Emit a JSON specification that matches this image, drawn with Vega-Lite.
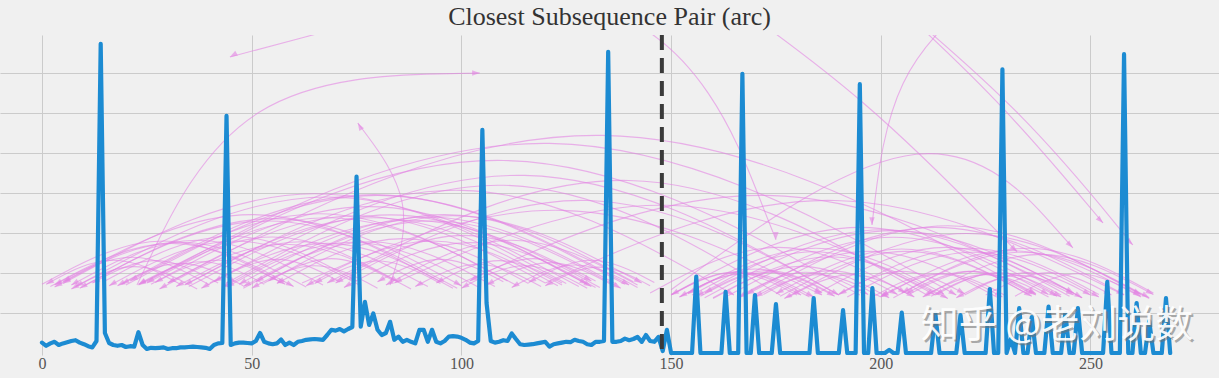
{
"$schema": "https://vega.github.io/schema/vega-lite/v6.json",
"width": 1219, "height": 320,
"autosize": {"type": "none"},
"padding": {"left": 0, "top": 35, "right": 0, "bottom": 23},
"background": "#f0f0f0",
"config": {"view": {"stroke": null}},
"title": {"text": "Closest Subsequence Pair (arc)", "font": "Liberation Serif", "fontSize": 26, "fontWeight": "normal", "color": "#333333", "anchor": "middle", "offset": 3},
"datasets": {
"series": [
{"x":0,"y":0.26},{"x":1,"y":0.18},{"x":2,"y":0.24},{"x":3,"y":0.28},{"x":4,"y":0.2},{"x":5,"y":0.24},{"x":6,"y":0.27},{"x":7,"y":0.3},{"x":8,"y":0.32},{"x":9,"y":0.26},
{"x":10,"y":0.22},{"x":11,"y":0.17},{"x":12,"y":0.14},{"x":13,"y":0.3},{"x":14,"y":7.73},{"x":15,"y":0.5},{"x":16,"y":0.25},{"x":17,"y":0.2},{"x":18,"y":0.18},{"x":19,"y":0.2},
{"x":20,"y":0.15},{"x":21,"y":0.17},{"x":22,"y":0.16},{"x":23,"y":0.52},{"x":24,"y":0.2},{"x":25,"y":0.1},{"x":26,"y":0.13},{"x":27,"y":0.12},{"x":28,"y":0.13},{"x":29,"y":0.14},
{"x":30,"y":0.1},{"x":31,"y":0.12},{"x":32,"y":0.12},{"x":33,"y":0.14},{"x":34,"y":0.14},{"x":35,"y":0.15},{"x":36,"y":0.16},{"x":37,"y":0.15},{"x":38,"y":0.14},{"x":39,"y":0.13},
{"x":40,"y":0.1},{"x":41,"y":0.2},{"x":42,"y":0.24},{"x":43,"y":0.25},{"x":44,"y":5.93},{"x":45,"y":0.2},{"x":46,"y":0.24},{"x":47,"y":0.26},{"x":48,"y":0.26},{"x":49,"y":0.25},
{"x":50,"y":0.24},{"x":51,"y":0.3},{"x":52,"y":0.5},{"x":53,"y":0.28},{"x":54,"y":0.24},{"x":55,"y":0.22},{"x":56,"y":0.24},{"x":57,"y":0.34},{"x":58,"y":0.2},{"x":59,"y":0.26},
{"x":60,"y":0.2},{"x":61,"y":0.28},{"x":62,"y":0.3},{"x":63,"y":0.33},{"x":64,"y":0.34},{"x":65,"y":0.35},{"x":66,"y":0.34},{"x":67,"y":0.33},{"x":68,"y":0.45},{"x":69,"y":0.58},
{"x":70,"y":0.56},{"x":71,"y":0.6},{"x":72,"y":0.54},{"x":73,"y":0.6},{"x":74,"y":0.65},{"x":75,"y":4.41},{"x":76,"y":0.66},{"x":77,"y":1.28},{"x":78,"y":0.7},{"x":79,"y":0.99},
{"x":80,"y":0.58},{"x":81,"y":0.45},{"x":82,"y":0.5},{"x":83,"y":0.78},{"x":84,"y":0.33},{"x":85,"y":0.41},{"x":86,"y":0.28},{"x":87,"y":0.33},{"x":88,"y":0.28},{"x":89,"y":0.24},
{"x":90,"y":0.58},{"x":91,"y":0.58},{"x":92,"y":0.28},{"x":93,"y":0.58},{"x":94,"y":0.28},{"x":95,"y":0.24},{"x":96,"y":0.3},{"x":97,"y":0.41},{"x":98,"y":0.42},{"x":99,"y":0.41},
{"x":100,"y":0.38},{"x":101,"y":0.33},{"x":102,"y":0.26},{"x":103,"y":0.24},{"x":104,"y":0.3},{"x":105,"y":5.58},{"x":106,"y":1.25},{"x":107,"y":0.3},{"x":108,"y":0.26},{"x":109,"y":0.28},
{"x":110,"y":0.32},{"x":111,"y":0.3},{"x":112,"y":0.49},{"x":113,"y":0.35},{"x":114,"y":0.22},{"x":115,"y":0.2},{"x":116,"y":0.21},{"x":117,"y":0.22},{"x":118,"y":0.24},{"x":119,"y":0.26},
{"x":120,"y":0.28},{"x":121,"y":0.16},{"x":122,"y":0.22},{"x":123,"y":0.24},{"x":124,"y":0.26},{"x":125,"y":0.28},{"x":126,"y":0.27},{"x":127,"y":0.33},{"x":128,"y":0.3},{"x":129,"y":0.28},
{"x":130,"y":0.22},{"x":131,"y":0.2},{"x":132,"y":0.28},{"x":133,"y":0.28},{"x":134,"y":0.3},{"x":135,"y":7.53},{"x":136,"y":0.28},{"x":137,"y":0.28},{"x":138,"y":0.3},{"x":139,"y":0.36},
{"x":140,"y":0.32},{"x":141,"y":0.35},{"x":142,"y":0.4},{"x":143,"y":0.28},{"x":144,"y":0.45},{"x":145,"y":0.3},{"x":146,"y":0.28},{"x":147,"y":0.4},{"x":148,"y":0.05},{"x":149,"y":0.58},
{"x":150,"y":0},{"x":151,"y":0},{"x":152,"y":0},{"x":153,"y":0},{"x":154,"y":0},{"x":155,"y":0},{"x":156,"y":1.91},{"x":157,"y":0},{"x":158,"y":0},{"x":159,"y":0},
{"x":160,"y":0},{"x":161,"y":0},{"x":162,"y":0},{"x":163,"y":1.53},{"x":164,"y":0},{"x":165,"y":0},{"x":166,"y":0},{"x":167,"y":6.98},{"x":168,"y":0},{"x":169,"y":0},
{"x":170,"y":1.45},{"x":171,"y":0},{"x":172,"y":0},{"x":173,"y":0},{"x":174,"y":0},{"x":175,"y":1.22},{"x":176,"y":0},{"x":177,"y":0},{"x":178,"y":0},{"x":179,"y":0},
{"x":180,"y":0},{"x":181,"y":0},{"x":182,"y":0},{"x":183,"y":0},{"x":184,"y":1.37},{"x":185,"y":0},{"x":186,"y":0},{"x":187,"y":0},{"x":188,"y":0},{"x":189,"y":0},
{"x":190,"y":0},{"x":191,"y":1.07},{"x":192,"y":0},{"x":193,"y":0},{"x":194,"y":0},{"x":195,"y":6.72},{"x":196,"y":0},{"x":197,"y":0},{"x":198,"y":1.62},{"x":199,"y":0},
{"x":200,"y":0},{"x":201,"y":0},{"x":202,"y":0.08},{"x":203,"y":0},{"x":204,"y":0},{"x":205,"y":1.01},{"x":206,"y":0},{"x":207,"y":0},{"x":208,"y":0},{"x":209,"y":0},
{"x":210,"y":0},{"x":211,"y":0},{"x":212,"y":0},{"x":213,"y":1.0},{"x":214,"y":0},{"x":215,"y":0},{"x":216,"y":0},{"x":217,"y":0},{"x":218,"y":0},{"x":219,"y":0.95},
{"x":220,"y":0},{"x":221,"y":0},{"x":222,"y":0},{"x":223,"y":0},{"x":224,"y":0},{"x":225,"y":0},{"x":226,"y":1.6},{"x":227,"y":0},{"x":228,"y":0},{"x":229,"y":7.09},
{"x":230,"y":0},{"x":231,"y":0.35},{"x":232,"y":0},{"x":233,"y":1.12},{"x":234,"y":0},{"x":235,"y":0},{"x":236,"y":0.9},{"x":237,"y":0},{"x":238,"y":0},{"x":239,"y":0},
{"x":240,"y":1.16},{"x":241,"y":0},{"x":242,"y":0},{"x":243,"y":0},{"x":244,"y":1.0},{"x":245,"y":0},{"x":246,"y":0},{"x":247,"y":1.12},{"x":248,"y":0},{"x":249,"y":0},
{"x":250,"y":0},{"x":251,"y":0},{"x":252,"y":0},{"x":253,"y":0},{"x":254,"y":1.78},{"x":255,"y":0},{"x":256,"y":0},{"x":257,"y":0},{"x":258,"y":7.47},{"x":259,"y":0},
{"x":260,"y":0},{"x":261,"y":1.25},{"x":262,"y":0},{"x":263,"y":0},{"x":264,"y":0.8},{"x":265,"y":0},{"x":266,"y":0},{"x":267,"y":0},{"x":268,"y":1.37},{"x":269,"y":0}
],
"arcs": [
{"a":"L1","x":33,"y":1.72},{"a":"L1","x":17,"y":2.62},{"a":"L1","x":1,"y":1.72,"d":"L"},
{"a":"L2","x":63,"y":1.65},{"a":"L2","x":33,"y":3.33},{"a":"L2","x":3,"y":1.65,"d":"L"},
{"a":"L3","x":95,"y":1.78},{"a":"L3","x":50,"y":4.30},{"a":"L3","x":5,"y":1.78,"d":"L"},
{"a":"L4","x":67,"y":1.70},{"a":"L4","x":37,"y":3.38},{"a":"L4","x":7,"y":1.70,"d":"L"},
{"a":"L5","x":99,"y":1.62},{"a":"L5","x":54,"y":4.14},{"a":"L5","x":9,"y":1.62,"d":"L"},
{"a":"L6","x":42,"y":1.75},{"a":"L6","x":27,"y":2.59},{"a":"L6","x":12,"y":1.75,"d":"L"},
{"a":"L7","x":76,"y":1.68},{"a":"L7","x":46,"y":3.36},{"a":"L7","x":16,"y":1.68,"d":"L"},
{"a":"L8","x":111,"y":1.80},{"a":"L8","x":66,"y":4.32},{"a":"L8","x":21,"y":1.80,"d":"L"},
{"a":"L9","x":53,"y":1.72},{"a":"L9","x":38,"y":2.56},{"a":"L9","x":23,"y":1.72,"d":"L"},
{"a":"L10","x":88,"y":1.60},{"a":"L10","x":58,"y":3.28},{"a":"L10","x":28,"y":1.60,"d":"L"},
{"a":"L11","x":120,"y":1.75},{"a":"L11","x":75,"y":4.27},{"a":"L11","x":30,"y":1.75,"d":"L"},
{"a":"L12","x":92,"y":1.66},{"a":"L12","x":62,"y":3.34},{"a":"L12","x":32,"y":1.66,"d":"L"},
{"a":"L13","x":124,"y":1.70},{"a":"L13","x":79,"y":4.22},{"a":"L13","x":34,"y":1.70,"d":"L"},
{"a":"L14","x":98,"y":1.62},{"a":"L14","x":68,"y":3.30},{"a":"L14","x":38,"y":1.62,"d":"L"},
{"a":"L15","x":71,"y":1.78},{"a":"L15","x":56,"y":2.62},{"a":"L15","x":41,"y":1.78,"d":"L"},
{"a":"L16","x":104,"y":1.65},{"a":"L16","x":74,"y":3.33},{"a":"L16","x":44,"y":1.65,"d":"L"},
{"a":"L17","x":137,"y":1.72},{"a":"L17","x":92,"y":4.24},{"a":"L17","x":47,"y":1.72,"d":"L"},
{"a":"L18","x":84,"y":1.80},{"a":"L18","x":69,"y":2.64},{"a":"L18","x":54,"y":1.80,"d":"L"},
{"a":"L19","x":123,"y":1.68},{"a":"L19","x":93,"y":3.36},{"a":"L19","x":63,"y":1.68,"d":"L"},
{"a":"L20","x":95,"y":1.74},{"a":"L20","x":80,"y":2.58},{"a":"L20","x":65,"y":1.74,"d":"L"},
{"a":"L21","x":132,"y":1.64},{"a":"L21","x":102,"y":3.32},{"a":"L21","x":72,"y":1.64,"d":"L"},
{"a":"L22","x":110,"y":1.78},{"a":"L22","x":95,"y":2.62},{"a":"L22","x":80,"y":1.78,"d":"L"},
{"a":"L23","x":142,"y":1.70},{"a":"L23","x":112,"y":3.38},{"a":"L23","x":82,"y":1.70,"d":"L"},
{"a":"L24","x":119,"y":1.66},{"a":"L24","x":104,"y":2.50},{"a":"L24","x":89,"y":1.66,"d":"L"},
{"a":"L25","x":124,"y":1.75},{"a":"L25","x":109,"y":2.59},{"a":"L25","x":94,"y":1.75,"d":"L"},
{"a":"L26","x":130,"y":1.62},{"a":"L26","x":115,"y":2.46},{"a":"L26","x":100,"y":1.62,"d":"L"},
{"a":"L27","x":132,"y":1.80},{"a":"L27","x":117,"y":2.64},{"a":"L27","x":102,"y":1.80,"d":"L"},
{"a":"L28","x":136,"y":1.70},{"a":"L28","x":121,"y":2.54},{"a":"L28","x":106,"y":1.70,"d":"L"},
{"a":"L29","x":142,"y":1.64},{"a":"L29","x":127,"y":2.48},{"a":"L29","x":112,"y":1.64,"d":"L"},
{"a":"L30","x":146,"y":1.76},{"a":"L30","x":131,"y":2.60},{"a":"L30","x":116,"y":1.76,"d":"L"},
{"a":"L31","x":145,"y":1.68},{"a":"L31","x":132.5,"y":2.38},{"a":"L31","x":120,"y":1.68,"d":"L"},
{"a":"L32","x":0,"y":1.72},{"a":"L32","x":29,"y":3.34},{"a":"L32","x":58,"y":1.72,"d":"R"},
{"a":"L33","x":2,"y":1.66},{"a":"L33","x":31,"y":3.28},{"a":"L33","x":60,"y":1.66,"d":"R"},
{"a":"L34","x":25,"y":1.78},{"a":"L34","x":55,"y":3.46},{"a":"L34","x":85,"y":1.78,"d":"R"},
{"a":"L35","x":48,"y":1.62},{"a":"L35","x":93,"y":4.14},{"a":"L35","x":138,"y":1.62,"d":"R"},
{"a":"L36","x":20,"y":1.70},{"a":"L36","x":80,"y":5.06},{"a":"L36","x":140,"y":1.70,"d":"R"},
{"a":"L37","x":53,"y":1.75},{"a":"L37","x":98,"y":4.27},{"a":"L37","x":143,"y":1.75,"d":"R"},
{"a":"L38","x":10,"y":1.68},{"a":"L38","x":55,"y":4.20},{"a":"L38","x":100,"y":1.68,"d":"R"},
{"a":"L39","x":15,"y":1.80},{"a":"L39","x":45,"y":3.48},{"a":"L39","x":75,"y":1.80,"d":"R"},
{"a":"L40","x":125,"y":1.74},{"a":"L40","x":65,"y":5.10},{"a":"L40","x":5,"y":1.74,"d":"L"},
{"a":"L41","x":128,"y":1.66},{"a":"L41","x":68,"y":5.02},{"a":"L41","x":8,"y":1.66,"d":"L"},
{"a":"L42","x":139,"y":1.72},{"a":"L42","x":79,"y":5.08},{"a":"L42","x":19,"y":1.72,"d":"L"},
{"a":"L43","x":133,"y":1.64},{"a":"L43","x":88,"y":4.16},{"a":"L43","x":43,"y":1.64,"d":"L"},
{"a":"L44","x":141,"y":1.78},{"a":"L44","x":96,"y":4.30},{"a":"L44","x":51,"y":1.78,"d":"L"},
{"a":"L45","x":113,"y":1.70},{"a":"L45","x":68,"y":4.22},{"a":"L45","x":23,"y":1.70,"d":"L"},
{"a":"L46","x":80,"y":1.62},{"a":"L46","x":65,"y":2.46},{"a":"L46","x":50,"y":1.62,"d":"L"},
{"a":"L47","x":57,"y":1.76},{"a":"L47","x":42,"y":2.60},{"a":"L47","x":27,"y":1.76,"d":"L"},
{"a":"L48","x":48,"y":1.68},{"a":"L48","x":33,"y":2.52},{"a":"L48","x":18,"y":1.68,"d":"L"},
{"a":"L49","x":26,"y":1.72},{"a":"L49","x":78,"y":4.63},{"a":"L49","x":130,"y":1.72,"d":"R"},
{"a":"L50","x":35,"y":1.66},{"a":"L50","x":83,"y":4.35},{"a":"L50","x":131,"y":1.66,"d":"R"},
{"a":"L51","x":70,"y":1.80},{"a":"L51","x":100.5,"y":3.51},{"a":"L51","x":131,"y":1.80,"d":"R"},
{"a":"L52","x":37,"y":1.60},{"a":"L52","x":22,"y":2.44},{"a":"L52","x":7,"y":1.60,"d":"L"},
{"a":"L53","x":40,"y":1.70},{"a":"L53","x":21.5,"y":2.74},{"a":"L53","x":3,"y":1.70,"d":"L"},
{"a":"L54","x":116,"y":1.74},{"a":"L54","x":86,"y":3.42},{"a":"L54","x":56,"y":1.74,"d":"L"},
{"a":"L55","x":108,"y":1.66},{"a":"L55","x":78,"y":3.34},{"a":"L55","x":48,"y":1.66,"d":"L"},
{"a":"R1","x":180,"y":1.45},{"a":"R1","x":165,"y":2.29},{"a":"R1","x":150,"y":1.45,"d":"L"},
{"a":"R2","x":183,"y":1.40},{"a":"R2","x":167.5,"y":2.27},{"a":"R2","x":152,"y":1.40,"d":"L"},
{"a":"R3","x":215,"y":1.48},{"a":"R3","x":184.5,"y":3.19},{"a":"R3","x":154,"y":1.48,"d":"L"},
{"a":"R4","x":245,"y":1.42},{"a":"R4","x":200.5,"y":3.91},{"a":"R4","x":156,"y":1.42,"d":"L"},
{"a":"R5","x":188,"y":1.50},{"a":"R5","x":173,"y":2.34},{"a":"R5","x":158,"y":1.50,"d":"L"},
{"a":"R6","x":228,"y":1.38},{"a":"R6","x":197,"y":3.12},{"a":"R6","x":166,"y":1.38,"d":"L"},
{"a":"R7","x":258,"y":1.46},{"a":"R7","x":213,"y":3.98},{"a":"R7","x":168,"y":1.46,"d":"L"},
{"a":"R8","x":200,"y":1.40},{"a":"R8","x":185,"y":2.24},{"a":"R8","x":170,"y":1.40,"d":"L"},
{"a":"R9","x":235,"y":1.48},{"a":"R9","x":205,"y":3.16},{"a":"R9","x":175,"y":1.48,"d":"L"},
{"a":"R10","x":264,"y":1.36},{"a":"R10","x":220.5,"y":3.80},{"a":"R10","x":177,"y":1.36,"d":"L"},
{"a":"R11","x":150,"y":1.45},{"a":"R11","x":165.5,"y":2.32},{"a":"R11","x":181,"y":1.45,"d":"R"},
{"a":"R12","x":152,"y":1.40},{"a":"R12","x":168,"y":2.30},{"a":"R12","x":184,"y":1.40,"d":"R"},
{"a":"R13","x":154,"y":1.50},{"a":"R13","x":170,"y":2.40},{"a":"R13","x":186,"y":1.50,"d":"R"},
{"a":"R14","x":157,"y":1.42},{"a":"R14","x":173,"y":2.32},{"a":"R14","x":189,"y":1.42,"d":"R"},
{"a":"R15","x":160,"y":1.38},{"a":"R15","x":181,"y":2.56},{"a":"R15","x":202,"y":1.38,"d":"R"},
{"a":"R16","x":172,"y":1.46},{"a":"R16","x":188,"y":2.36},{"a":"R16","x":204,"y":1.46,"d":"R"},
{"a":"R17","x":145,"y":1.50},{"a":"R17","x":175.5,"y":3.21},{"a":"R17","x":206,"y":1.50,"d":"R"},
{"a":"R18","x":178,"y":1.40},{"a":"R18","x":193,"y":2.24},{"a":"R18","x":208,"y":1.40,"d":"R"},
{"a":"R19","x":155,"y":1.45},{"a":"R19","x":184,"y":3.07},{"a":"R19","x":213,"y":1.45,"d":"R"},
{"a":"R20","x":160,"y":1.36},{"a":"R20","x":188,"y":2.93},{"a":"R20","x":216,"y":1.36,"d":"R"},
{"a":"R21","x":190,"y":1.48},{"a":"R21","x":205,"y":2.32},{"a":"R21","x":220,"y":1.48,"d":"R"},
{"a":"R22","x":176,"y":1.42},{"a":"R22","x":206,"y":3.10},{"a":"R22","x":236,"y":1.42,"d":"R"},
{"a":"R23","x":150,"y":1.46},{"a":"R23","x":195,"y":3.98},{"a":"R23","x":240,"y":1.46,"d":"R"},
{"a":"R24","x":163,"y":1.40},{"a":"R24","x":203,"y":3.64},{"a":"R24","x":243,"y":1.40,"d":"R"},
{"a":"R25","x":185,"y":1.50},{"a":"R25","x":215.5,"y":3.21},{"a":"R25","x":246,"y":1.50,"d":"R"},
{"a":"R26","x":158,"y":1.38},{"a":"R26","x":203,"y":3.90},{"a":"R26","x":248,"y":1.38,"d":"R"},
{"a":"R27","x":220,"y":1.45},{"a":"R27","x":235,"y":2.29},{"a":"R27","x":250,"y":1.45,"d":"R"},
{"a":"R28","x":192,"y":1.40},{"a":"R28","x":222,"y":3.08},{"a":"R28","x":252,"y":1.40,"d":"R"},
{"a":"R29","x":170,"y":1.46},{"a":"R29","x":216,"y":4.04},{"a":"R29","x":262,"y":1.46,"d":"R"},
{"a":"R30","x":232,"y":1.42},{"a":"R30","x":247,"y":2.26},{"a":"R30","x":262,"y":1.42,"d":"R"},
{"a":"R31","x":236,"y":1.48},{"a":"R31","x":221,"y":2.32},{"a":"R31","x":206,"y":1.48,"d":"L"},
{"a":"R32","x":240,"y":1.40},{"a":"R32","x":225,"y":2.24},{"a":"R32","x":210,"y":1.40,"d":"L"},
{"a":"R33","x":243,"y":1.45},{"a":"R33","x":228,"y":2.29},{"a":"R33","x":213,"y":1.45,"d":"L"},
{"a":"R34","x":248,"y":1.38},{"a":"R34","x":233,"y":2.22},{"a":"R34","x":218,"y":1.38,"d":"L"},
{"a":"R35","x":252,"y":1.46},{"a":"R35","x":221,"y":3.20},{"a":"R35","x":190,"y":1.46,"d":"L"},
{"a":"R36","x":262,"y":1.40},{"a":"R36","x":231,"y":3.14},{"a":"R36","x":200,"y":1.40,"d":"L"},
{"a":"R37","x":265,"y":1.50},{"a":"R37","x":235,"y":3.18},{"a":"R37","x":205,"y":1.50,"d":"L"},
{"a":"R38","x":230,"y":1.42},{"a":"R38","x":215,"y":2.26},{"a":"R38","x":200,"y":1.42,"d":"L"},
{"a":"R39","x":167,"y":1.46},{"a":"R39","x":182,"y":2.30},{"a":"R39","x":197,"y":1.46,"d":"R"},
{"a":"R40","x":198,"y":1.40},{"a":"R40","x":213.5,"y":2.27},{"a":"R40","x":229,"y":1.40,"d":"R"},
{"a":"R41","x":207,"y":1.48},{"a":"R41","x":222,"y":2.32},{"a":"R41","x":237,"y":1.48,"d":"R"},
{"a":"R42","x":212,"y":1.42},{"a":"R42","x":227,"y":2.26},{"a":"R42","x":242,"y":1.42,"d":"R"},
{"a":"R43","x":225,"y":1.45},{"a":"R43","x":240,"y":2.29},{"a":"R43","x":255,"y":1.45,"d":"R"},
{"a":"R44","x":203,"y":1.38},{"a":"R44","x":233.5,"y":3.09},{"a":"R44","x":264,"y":1.38,"d":"R"},
{"a":"R45","x":211,"y":1.46},{"a":"R45","x":238,"y":2.97},{"a":"R45","x":265,"y":1.46,"d":"R"},
{"a":"C1","x":30,"y":1.75},{"a":"C1","x":133.5,"y":7.36},{"a":"C1","x":237,"y":1.45,"d":"R"},
{"a":"C2","x":24,"y":1.75},{"a":"C2","x":121,"y":7.06},{"a":"C2","x":218,"y":1.45,"d":"R"},
{"a":"C3","x":195,"y":1.45},{"a":"C3","x":110,"y":6.42},{"a":"C3","x":25,"y":1.75,"d":"L"},
{"a":"C4","x":40,"y":1.75},{"a":"C4","x":115,"y":5.86},{"a":"C4","x":190,"y":1.45,"d":"R"},
{"a":"C5","x":211,"y":1.45},{"a":"C5","x":140,"y":5.67},{"a":"C5","x":68,"y":1.75,"d":"L"},
{"a":"C6","x":35,"y":1.75},{"a":"C6","x":100,"y":5.30},{"a":"C6","x":165,"y":1.45,"d":"R"},
{"a":"C7","x":190,"y":1.45},{"a":"C7","x":130,"y":4.92},{"a":"C7","x":70,"y":1.75,"d":"L"},
{"a":"C8","x":100,"y":1.75},{"a":"C8","x":173,"y":5.11},{"a":"C8","x":246,"y":1.45,"d":"R"},
{"a":"C9","x":176,"y":1.45},{"a":"C9","x":110,"y":5.49},{"a":"C9","x":44,"y":1.75,"d":"L"},
{"a":"C10","x":120,"y":1.75},{"a":"C10","x":189,"y":4.92},{"a":"C10","x":258,"y":1.45,"d":"R"},
{"a":"C11","x":214,"y":1.45},{"a":"C11","x":149,"y":4.74},{"a":"C11","x":84,"y":1.75,"d":"L"},
{"a":"C12","x":62,"y":1.75},{"a":"C12","x":124,"y":4.55},{"a":"C12","x":186,"y":1.45,"d":"R"}
],
"odd": [
{"a":"O1","o":0,"x":22.65,"y":1.7},{"a":"O1","o":1,"x":46.2,"y":6.87},{"a":"O1","o":2,"x":104.4,"y":7.0,"d":"E"},
{"a":"O2","o":0,"x":175.0,"y":2.83,"d":"D"},{"a":"O2","o":1,"x":147.1,"y":10.26},{"a":"O2","o":2,"x":44.8,"y":7.4,"d":"L"},
{"a":"O3","o":0,"x":83.0,"y":1.7},{"a":"O3","o":1,"x":89.2,"y":3.8},{"a":"O3","o":2,"x":75.3,"y":5.75,"d":"UL"},
{"a":"O4","o":0,"x":156.9,"y":9.33},{"a":"O4","o":1,"x":196.2,"y":6.43},{"a":"O4","o":2,"x":232.5,"y":2.53,"d":"DR"},
{"a":"O5","o":0,"x":199.8,"y":9.08},{"a":"O5","o":1,"x":227.9,"y":6.38},{"a":"O5","o":2,"x":253.0,"y":3.25,"d":"DR"},
{"a":"O6","o":0,"x":199.8,"y":9.08},{"a":"O6","o":1,"x":234.2,"y":6.03},{"a":"O6","o":2,"x":260.1,"y":2.7,"d":"DR"},
{"a":"O7","o":0,"x":224.8,"y":9.08},{"a":"O7","o":1,"x":202.3,"y":7.04},{"a":"O7","o":2,"x":197.9,"y":3.2,"d":"D"},
{"a":"O8","o":0,"x":150.0,"y":1.58},{"a":"O8","o":1,"x":213.7,"y":6.4},{"a":"O8","o":2,"x":245.8,"y":2.63,"d":"DR"}
]
},
"layer": [
{
"encoding": {
"x": {"field": "x", "type": "quantitative", "scale": {"domain": [-10.01, 280.64], "nice": false, "zero": false},
"axis": {"values": [0, 50, 100, 150, 200, 250], "grid": true, "gridColor": "#cbcbcb", "gridWidth": 1, "domain": false, "ticks": false, "labelFont": "Liberation Serif", "labelFontSize": 16, "labelColor": "#555555", "labelPadding": 0, "labelFlush": false, "title": null}},
"y": {"field": "y", "type": "quantitative", "scale": {"domain": [-0.05, 7.95], "nice": false, "zero": false},
"axis": {"values": [1, 2, 3, 4, 5, 6, 7], "grid": true, "gridColor": "#cbcbcb", "gridWidth": 1, "domain": false, "ticks": false, "labels": false, "title": null}}
},
"layer": [
{
"data": {"name": "arcs"},
"mark": {"type": "line", "interpolate": "basis", "stroke": "#e283e2", "strokeWidth": 1.1, "opacity": 0.6, "clip": true},
"encoding": {"detail": {"field": "a", "type": "nominal"}}
},
{
"data": {"name": "odd"},
"mark": {"type": "line", "interpolate": "basis", "stroke": "#e283e2", "strokeWidth": 1.1, "opacity": 0.6, "clip": true},
"encoding": {"detail": {"field": "a", "type": "nominal"}, "order": {"field": "o", "type": "quantitative"}}
},
{
"data": {"name": "arcs"},
"transform": [{"filter": "isValid(datum.d)"}],
"mark": {"type": "point", "filled": true, "color": "#e283e2", "opacity": 0.6, "size": 240, "strokeWidth": 0, "clip": true},
"encoding": {
"shape": {"field": "d", "type": "nominal", "legend": null,
"scale": {"domain": ["L", "R", "E", "UL", "DR", "D"], "range": ["M0,0L1.04,-0.2L0.69,-0.8Z", "M0,0L-1.04,-0.2L-0.69,-0.8Z", "M0,0L-1,-0.35L-1,0.35Z", "M0,0L0.8,0.69L0.2,1.04Z", "M0,0L-0.46,-0.95L-0.95,-0.46Z", "M0,0L0.35,-1L-0.35,-1Z"]}}
}
},
{
"data": {"name": "odd"},
"transform": [{"filter": "isValid(datum.d)"}],
"mark": {"type": "point", "filled": true, "color": "#e283e2", "opacity": 0.6, "size": 240, "strokeWidth": 0, "clip": true},
"encoding": {
"shape": {"field": "d", "type": "nominal", "legend": null,
"scale": {"domain": ["L", "R", "E", "UL", "DR", "D"], "range": ["M0,0L1.04,-0.2L0.69,-0.8Z", "M0,0L-1.04,-0.2L-0.69,-0.8Z", "M0,0L-1,-0.35L-1,0.35Z", "M0,0L0.8,0.69L0.2,1.04Z", "M0,0L-0.46,-0.95L-0.95,-0.46Z", "M0,0L0.35,-1L-0.35,-1Z"]}}
}
},
{
"data": {"name": "series"},
"mark": {"type": "line", "color": "#1c8bd2", "strokeWidth": 4.2, "strokeJoin": "round", "strokeCap": "round", "clip": true}
},
{
"data": {"values": [{"label": "知乎 @老刘说数", "x": 242.0, "y": 0.675}]},
"mark": {"type": "text", "font": "Noto Sans CJK SC", "fontSize": 38, "color": "#6e6e6e", "opacity": 0.55, "dx": 2, "dy": 2},
"encoding": {"text": {"field": "label", "type": "nominal"}}
},
{
"data": {"values": [{"label": "知乎 @老刘说数", "x": 242.0, "y": 0.675}]},
"mark": {"type": "text", "font": "Noto Sans CJK SC", "fontSize": 38, "color": "#ffffff", "opacity": 0.92},
"encoding": {"text": {"field": "label", "type": "nominal"}}
}
]
},
{
"data": {"values": [{"x": 147.8}]},
"mark": {"type": "rule", "color": "#3a3a3a", "strokeWidth": 4, "strokeDash": [15, 8]},
"encoding": {
"x": {"field": "x", "type": "quantitative", "scale": {"domain": [-10.01, 280.64], "nice": false, "zero": false}}
}
}
]
}
